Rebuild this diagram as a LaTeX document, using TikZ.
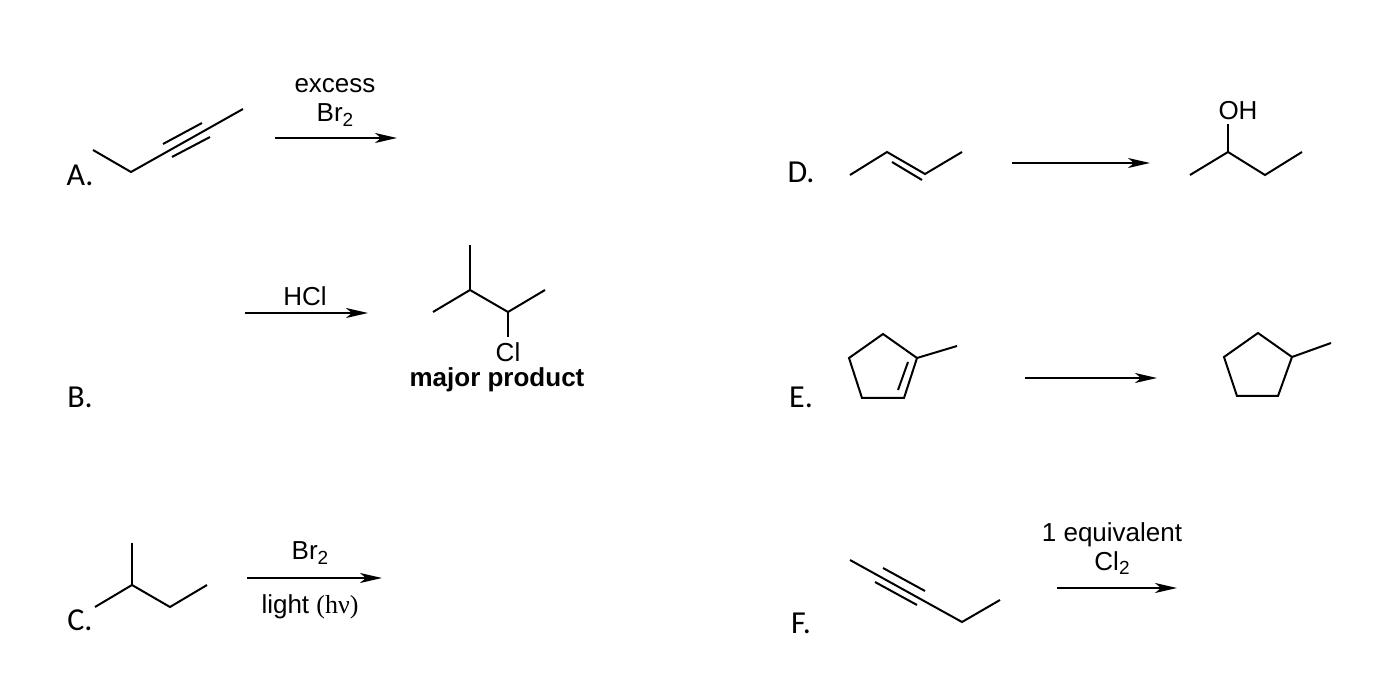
\documentclass[tikz,border=0pt]{standalone}
\usepackage{fontspec}
\setmainfont{Liberation Sans}
\newfontfamily\lab{Carlito}
\newfontfamily\serifnu{Liberation Serif}
\newcommand{\subtwo}{\raisebox{-0.35ex}{\fontsize{19}{20}\selectfont 2}}
\usetikzlibrary{arrows.meta}
\begin{document}
\begin{tikzpicture}[x=1pt,y=-1pt,line width=2pt,
  bond/.style={line join=miter},
  rxn/.style={-{Stealth[length=22pt,width=10pt,inset=6pt]}},
  txt/.style={font=\fontsize{26}{28}\selectfont,inner sep=0pt},
  lbl/.style={font=\lab\fontsize{32}{34}\selectfont,inner sep=0pt}]
\useasboundingbox (0,0) rectangle (1382,684);
% labels
\node[lbl] (la) at (80,175) {A.};
\node[lbl] (lb) at (80,397) {B.};
\node[lbl] (lc) at (80,620) {C.};
\node[lbl] (ld) at (801,172) {D.};
\node[lbl] (le) at (801,397) {E.};
\node[lbl] (lf) at (801,623) {F.};
% A
\draw[bond] (93,150) -- (131,172) -- (243,109);
\draw (163,144) -- (202,123);
\draw (172,157) -- (210,137);
\coordinate (a1) at (275,138); \coordinate (a2) at (397,138);
\draw[rxn] (a1) -- (a2);
\node[txt] (ta1) at (335,86) {excess};
\node[txt] (ta2) at (335,115) {Br\subtwo};
% B
\coordinate (b1) at (245,313); \coordinate (b2) at (368,313);
\draw[rxn] (b1) -- (b2);
\node[txt] (tb) at (305,296) {HCl};
\draw[bond] (433,312) -- (470,290) -- (508,312) -- (545,290);
\draw (470,290) -- (470,245);
\draw (508,312) -- (508,337);
\node[txt] (cl) at (508,352) {Cl};
\node[txt,font=\bfseries\fontsize{26}{28}\selectfont] (mp) at (497,380) {major product};
% C
\draw[bond] (95,607) -- (132,585) -- (170,607) -- (207,585);
\draw (132,585) -- (132,543);
\coordinate (c1) at (247,578); \coordinate (c2) at (382,578);
\draw[rxn] (c1) -- (c2);
\node[txt] (tc1) at (310,553) {Br\subtwo};
\node[txt] (tc2) at (310,607) {light {\serifnu(hν)}};
% D
\draw[bond] (850,175) -- (887,152) -- (925,174) -- (962,152);
\draw (892,162) -- (922,180);
\coordinate (d1) at (1012,163); \coordinate (d2) at (1150,163);
\draw[rxn] (d1) -- (d2);
\draw[bond] (1190,175) -- (1228,152) -- (1265,175) -- (1302,152);
\draw (1228,152) -- (1228,124);
\node[txt] (oh) at (1238,111) {OH};
% E
\draw[bond] (883,334) -- (849,358) -- (862,398) -- (904,398) -- (917,358) -- cycle;
\draw (917,358) -- (957,346);
\draw (898,390) -- (908,362);
\coordinate (e1) at (1025,378); \coordinate (e2) at (1157,378);
\draw[rxn] (e1) -- (e2);
\draw[bond] (1258,333) -- (1224,357) -- (1237,396) -- (1278,396) -- (1292,357) -- cycle;
\draw (1292,357) -- (1331,343);
% F
\draw[bond] (850,560) -- (962,622) -- (1000,600);
\draw (883,568) -- (925,591);
\draw (875,582) -- (917,605);
\coordinate (f1) at (1057,588); \coordinate (f2) at (1177,588);
\draw[rxn] (f1) -- (f2);
\node[txt] (tf1) at (1112,535) {1 equivalent};
\node[txt] (tf2) at (1112,563) {Cl\subtwo};
\end{tikzpicture}
\end{document}
